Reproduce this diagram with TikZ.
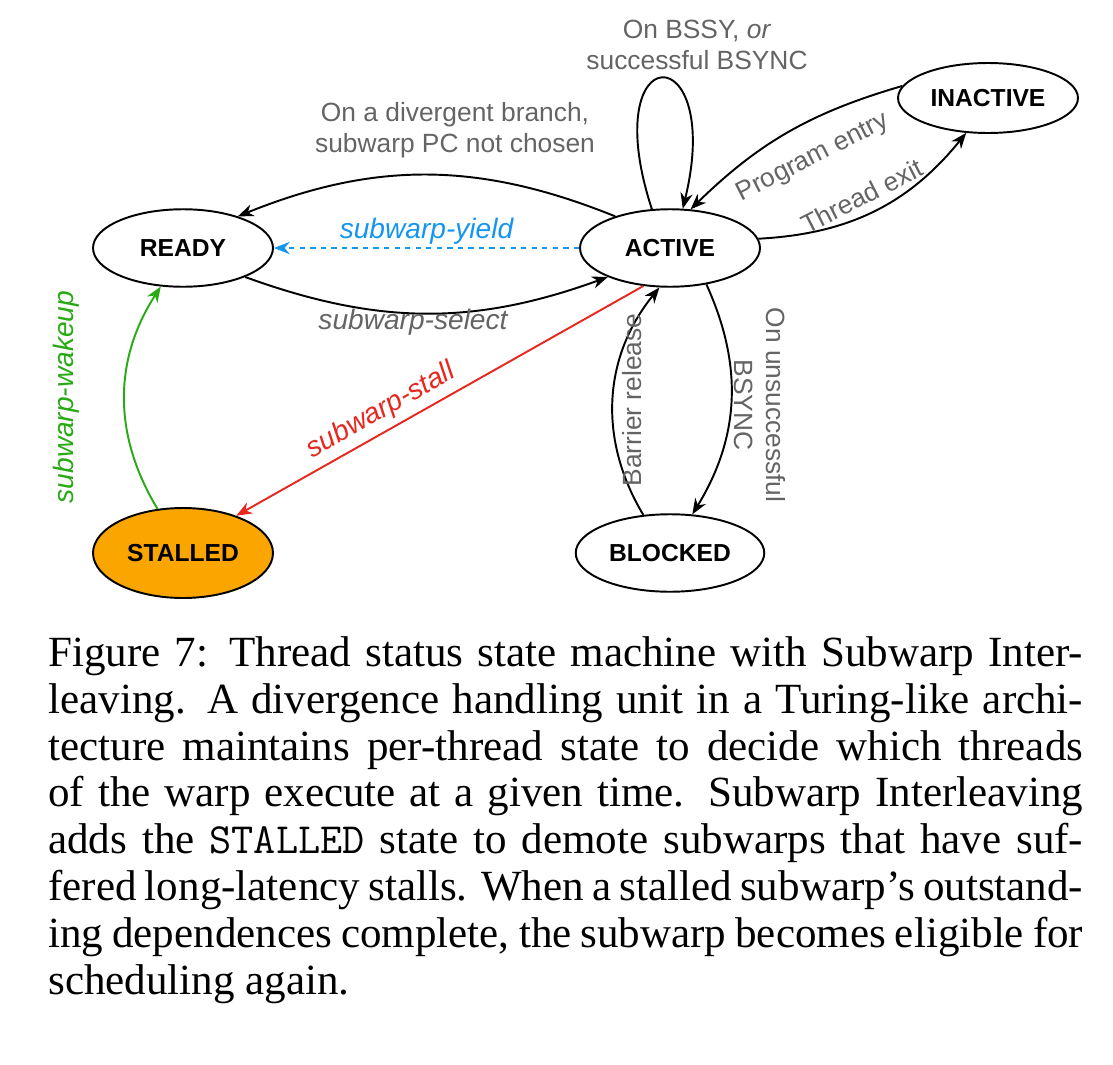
\documentclass[tikz,border=0pt]{standalone}
\usepackage{fontspec}
\setmainfont{Liberation Serif}
\newfontfamily\diagfont{Liberation Sans}
\usetikzlibrary{arrows.meta,positioning,shapes.geometric}
\definecolor{lblgray}{RGB}{100,100,100}
\definecolor{yieldblue}{RGB}{20,150,240}
\definecolor{stallred}{RGB}{230,40,30}
\definecolor{wakegreen}{RGB}{40,170,20}
\definecolor{stallorange}{RGB}{250,165,0}
\begin{document}
\begin{tikzpicture}[x=0.02cm,y=-0.02cm,>={Stealth[length=9pt,width=7pt]},
    state/.style={draw,line width=1.1pt,ellipse,minimum width=3.6cm,minimum height=1.55cm,
      font=\diagfont\fontsize{14}{16}\selectfont\bfseries},
    trans/.style={->,line width=1.1pt},
    lbl/.style={font=\diagfont\fontsize{15}{18}\selectfont,text=lblgray,align=center},
    ilbl/.style={font=\diagfont\itshape\fontsize{16}{18}\selectfont}]
  \useasboundingbox (0,0) rectangle (1113,1065);

  \node[state] (ready) at (183,248) {READY};
  \node[state] (active) at (670,248) {ACTIVE};
  \node[state,minimum height=1.4cm] (inactive) at (988,98) {INACTIVE};
  \node[state,fill=stallorange,minimum height=1.8cm] (stalled) at (183,553) {STALLED};
  \node[state] (blocked) at (670,553) {BLOCKED};

  % active <-> ready
  \draw[trans] (active.150) to[bend right=22] (ready.30);
  \node[lbl] (divlbl) at (455,130) {On a divergent branch,\\subwarp PC not chosen};
  \draw[trans,dashed,yieldblue] (active.west) -- (ready.east)
    node[midway,above=-2pt,ilbl,text=yieldblue] (yieldlbl) {subwarp-yield};
  \draw[trans] (ready.-25) to[bend right=20] (active.-155);
  \node[ilbl,text=lblgray] (selectlbl) at (413,322) {subwarp-select};

  % self loop
  \draw[trans] (active.115) .. controls (595,35) and (725,35) .. (active.72);
  \node[lbl] (looplbl) at (697,45) {On BSSY, \textit{or}\\successful BSYNC};

  % inactive <-> active
  \draw[trans] (inactive.172) to[bend right=14] (active.62);
  \node[lbl,rotate=27] (entrylbl) at (813,158) {Program entry};
  \draw[trans] (active.6) to[bend right=24] (inactive.238);
  \node[lbl,rotate=27] (exitlbl) at (862,196) {Thread exit};

  % active <-> blocked
  \draw[trans] (active.-45) to[bend left=28] (blocked.60);
  \node[lbl,rotate=-90] (unsynclbl) at (760,405) {On unsuccessful\\BSYNC};
  \draw[trans] (blocked.125) to[bend left=35] (active.-105);
  \node[lbl,rotate=90] (barrierlbl) at (632,400) {Barrier release};

  % stall / wakeup
  \draw[trans,stallred] (active.-125) --
    node[ilbl,text=stallred,sloped,above,pos=0.62] (stalllbl) {subwarp-stall} (stalled.35);
  \draw[trans,wakegreen] (stalled.120) to[bend left=32] (ready.-120);
  \node[ilbl,text=wakegreen,rotate=90] (wakelbl) at (66,397) {subwarp-wakeup};

  % caption
  \node[anchor=north west,inner sep=0pt,text width=20.7cm,align=justify,
    font=\fontsize{24.5}{26.7}\selectfont] (caption) at (48,636)
    {Figure 7: Thread status state machine with Subwarp Interleaving. A divergence handling unit in a Turing-like architecture maintains per-thread state to decide which threads of the warp execute at a given time. Subwarp Interleaving adds the \texttt{STALLED} state to demote subwarps that have suffered long-latency stalls. When a stalled subwarp's outstanding dependences complete, the subwarp becomes eligible for scheduling again.};
\end{tikzpicture}
\end{document}
